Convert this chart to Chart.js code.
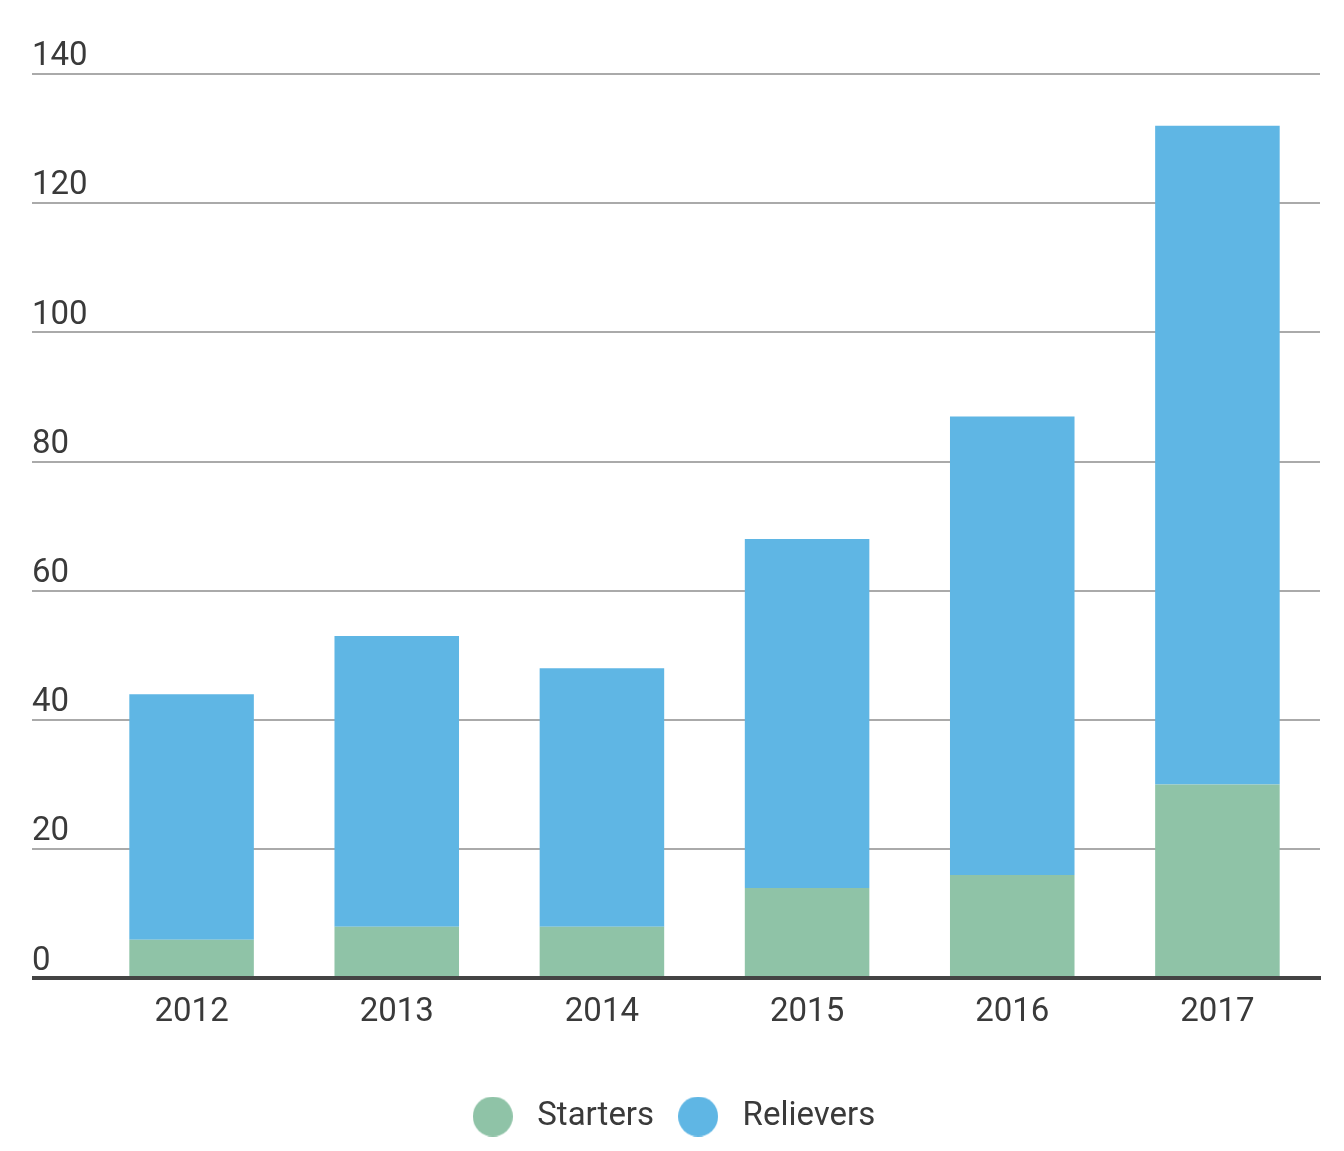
<!DOCTYPE html>
<html>
<head>
<meta charset="utf-8">
<script src="https://cdn.jsdelivr.net/npm/chart.js@4.4.1/dist/chart.umd.min.js"></script>
<style>
  html, body { margin: 0; padding: 0; background: #fff; }
  #wrap { width: 1344px; height: 1151px; position: relative; }
</style>
</head>
<body>
<div id="wrap"><canvas id="chart"></canvas></div>
<script>
// data
const years = ['2012', '2013', '2014', '2015', '2016', '2017'];
const starters = [6, 8, 8, 14, 16, 30];
const relievers = [38, 45, 40, 54, 71, 102];
const yTicks = [0, 20, 40, 60, 80, 100, 120, 140];

const green = '#8fc3a7';
const blue = '#5fb6e4';
const textColor = '#3a3a3a';

Chart.defaults.font.family = 'Roboto, "Noto Sans", sans-serif';
Chart.defaults.font.size = 33;
Chart.defaults.color = textColor;

// round legend dot, drawn once to a small canvas
function dot(color) {
    const c = document.createElement('canvas');
    c.width = 40;
    c.height = 40;
    const g = c.getContext('2d');
    g.fillStyle = color;
    g.beginPath();
    g.arc(20, 20, 20, 0, Math.PI * 2);
    g.fill();
    return c;
}
const dots = [dot(green), dot(blue)];

// nudge the legend a little left, like the original
const legendShift = {
    id: 'legendShift',
    afterLayout(chart) {
        if (chart.legend) {
            chart.legend.left -= 6;
            chart.legend.right -= 6;
        }
    }
};

const ctx = document.getElementById('chart').getContext('2d');
new Chart(ctx, {
    type: 'bar',
    data: {
        labels: years,
        datasets: [{
            label: 'Starters',
            data: starters,
            backgroundColor: green,
            borderWidth: 0
        }, {
            label: 'Relievers',
            data: relievers,
            backgroundColor: blue,
            borderWidth: 0
        }]
    },
    plugins: [legendShift],
    options: {
        responsive: true,
        maintainAspectRatio: false,
        animation: false,
        layout: {
            padding: { top: 74, left: 32, right: 24, bottom: 8 }
        },
        datasets: {
            bar: {
                categoryPercentage: 1,
                barPercentage: 0.607
            }
        },
        plugins: {
            tooltip: { enabled: false },
            legend: {
                position: 'bottom',
                labels: {
                    usePointStyle: true,
                    pointStyleWidth: 56,
                    boxHeight: 33,
                    padding: 16,
                    color: textColor,
                    font: { size: 33 },
                    generateLabels: function(chart) {
                        const items = Chart.defaults.plugins.legend.labels.generateLabels(chart);
                        items.forEach((item, i) => { item.pointStyle = dots[i]; });
                        return items;
                    }
                }
            }
        },
        scales: {
            x: {
                stacked: true,
                grid: { display: false },
                border: { display: true, color: '#444444', width: 4, z: 1 },
                ticks: { padding: 7, color: textColor, font: { size: 33 } },
                afterFit: function(scale) {
                    scale.height += 44;
                }
            },
            y: {
                stacked: true,
                min: 0,
                max: 140,
                afterBuildTicks: function(scale) {
                    scale.ticks = yTicks.map(v => ({ value: v }));
                },
                afterFit: function(scale) {
                    scale.width = 57;
                },
                border: { display: false },
                grid: {
                    drawTicks: true,
                    tickLength: 57,
                    color: c => c.tick && c.tick.value === 0 ? '#444444' : '#aaaaaa',
                    lineWidth: c => c.tick && c.tick.value === 0 ? 4 : 2
                },
                ticks: {
                    crossAlign: 'far',
                    labelOffset: -17,
                    color: textColor,
                    font: { size: 33 }
                }
            }
        }
    }
});
</script>
</body>
</html>
